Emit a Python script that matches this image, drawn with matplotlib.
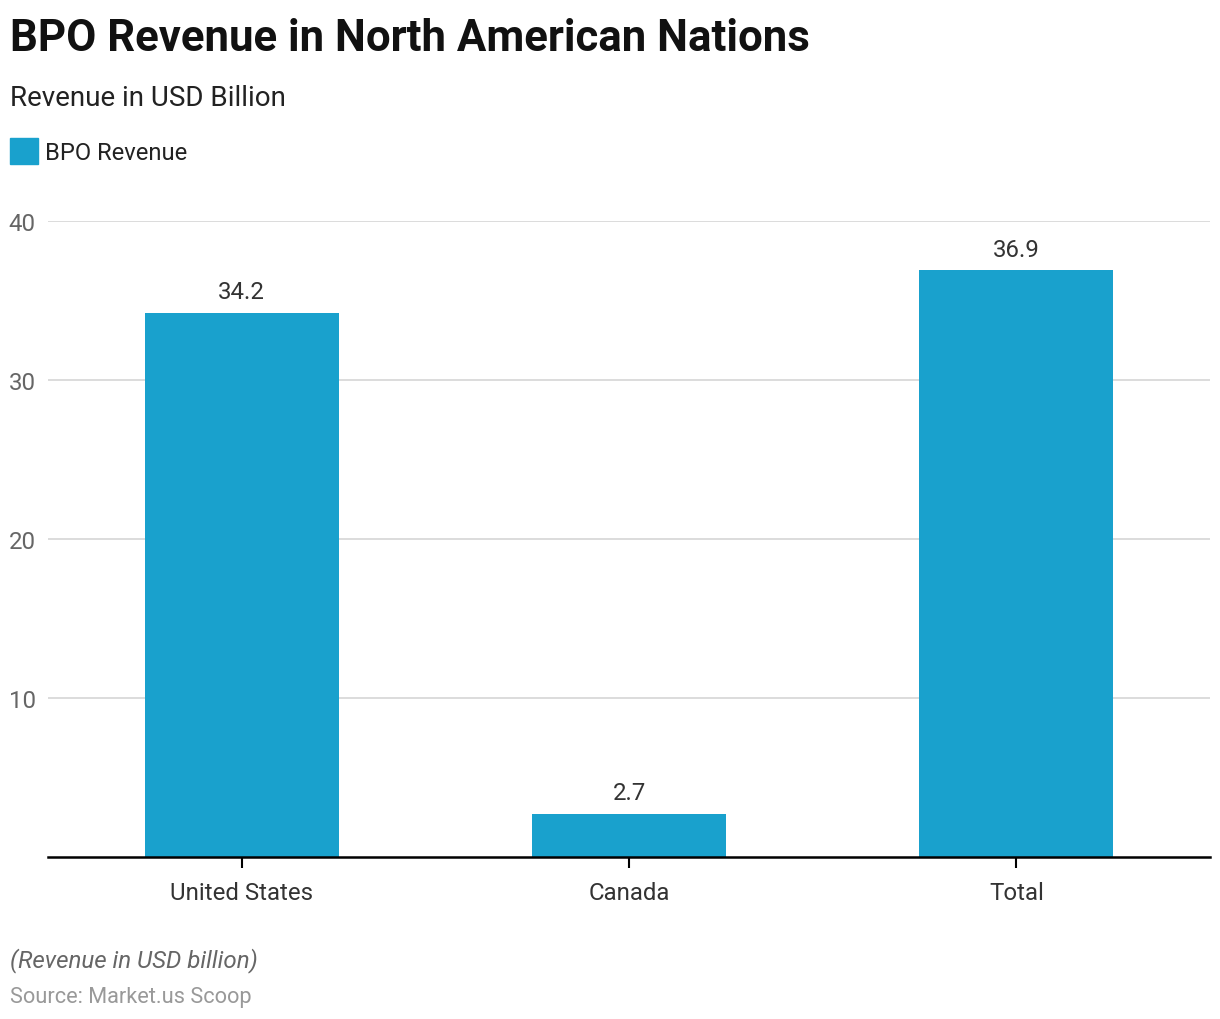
import matplotlib
matplotlib.use("Agg")
import matplotlib.pyplot as plt

# данные
categories = ["United States", "Canada", "Total"]
revenue = [34.2, 2.7, 36.9]
y_ticks = [10, 20, 30, 40]

bar_color = "#19a1cd"

plt.rcParams["font.family"] = ["Roboto", "DejaVu Sans"]

fig = plt.figure(figsize=(12.2, 10.2), dpi=100)
ax = fig.add_axes([48 / 1220, 1 - 858 / 1020, 1162 / 1220, 636 / 1020])

x = range(len(categories))
bars = ax.bar(x, revenue, width=0.5, color=bar_color, zorder=3)

for b, v in zip(bars, revenue):
    ax.annotate(f"{v}", (b.get_x() + b.get_width() / 2, v),
                xytext=(0, 7), textcoords="offset points",
                ha="center", va="bottom", fontsize=17.3, color="#333333")

ax.set_xlim(-0.5, 2.5)
ax.set_ylim(0, 40)
ax.set_yticks(y_ticks)
ax.set_yticklabels([str(t) for t in y_ticks], fontsize=17.3, color="#666666")
ax.set_xticks(list(x))
ax.set_xticklabels(categories, fontsize=17.3, color="#333333")

ax.grid(axis="y", color="#d9d9d9", linewidth=1.3, zorder=0)
ax.tick_params(axis="y", length=0, pad=9)
ax.tick_params(axis="x", length=8, width=1.5, color="black", pad=9)
for s in ["top", "right", "left"]:
    ax.spines[s].set_visible(False)
ax.spines["bottom"].set_linewidth(1.8)
ax.spines["bottom"].set_zorder(4)

# заголовки
fig.text(10 / 1220, 1 - 39 / 1020, "BPO Revenue in North American Nations",
         fontsize=31.5, fontweight="bold", color="#111111", va="center")
fig.text(10 / 1220, 1 - 99 / 1020, "Revenue in USD Billion",
         fontsize=20, color="#222222", va="center")

# легенда
fig.patches.append(plt.Rectangle((10 / 1220, 1 - 165 / 1020), 28 / 1220, 26 / 1020,
                                 transform=fig.transFigure, color=bar_color))
fig.text(45 / 1220, 1 - 154 / 1020, "BPO Revenue", fontsize=17.1,
         color="#222222", va="center")

# подвал
fig.text(10 / 1220, 1 - 961 / 1020, "(Revenue in USD billion)", fontsize=17.4,
         style="italic", color="#666666", va="center")
fig.text(10 / 1220, 1 - 998 / 1020, "Source: Market.us Scoop", fontsize=15.7,
         color="#999999", va="center")

fig.savefig("out.png", dpi=100)
